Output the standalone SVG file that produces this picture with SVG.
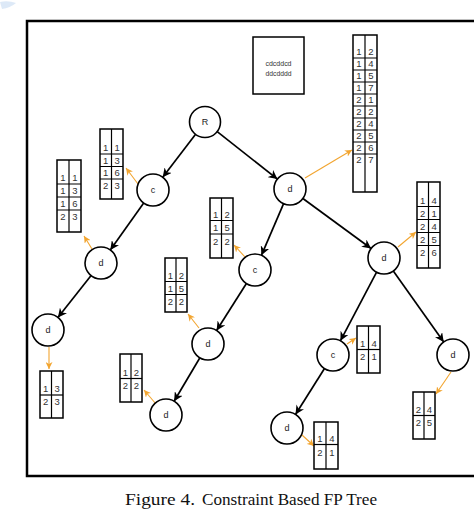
<svg xmlns="http://www.w3.org/2000/svg" width="474" height="512" viewBox="0 0 474 512">
<style>
.nd{fill:#fff;stroke:#000;stroke-width:1.6}
.nl{font-family:"Liberation Sans",sans-serif;font-size:9px;text-anchor:middle;fill:#222}
.tb{fill:#fff;stroke:#000;stroke-width:1.5}
.tl{stroke:#000;stroke-width:1.2}
.tt{font-family:"Liberation Sans",sans-serif;font-size:9.5px;text-anchor:middle;fill:#333}
.e{stroke:#000;stroke-width:1.7;fill:none;marker-end:url(#ah)}
.o{stroke:#f2a530;stroke-width:1.1;fill:none;marker-end:url(#oh)}
</style>
<defs>
<marker id="ah" viewBox="0 0 10 10" refX="10" refY="5" markerWidth="9" markerHeight="9" markerUnits="userSpaceOnUse" orient="auto"><path d="M0,0 L10,5 L0,10 L3,5 z" fill="#000"/></marker>
<marker id="oh" viewBox="0 0 10 10" refX="10" refY="5" markerWidth="7" markerHeight="7" markerUnits="userSpaceOnUse" orient="auto"><path d="M0,0 L10,5 L0,10 L3,5 z" fill="#f2a530"/></marker>
</defs>
<rect width="474" height="512" fill="#fff"/>
<path d="M0,2 Q8,0 16,3 Q10,8 2,9 z" fill="#cfe0f3" opacity="0.7"/>
<rect x="27" y="21" width="452" height="455" fill="none" stroke="#000" stroke-width="2.5"/>

<g id="box">
<rect x="253" y="37" width="51" height="57" fill="#fff" stroke="#000" stroke-width="1.5"/>
<text x="278.5" y="66" font-family="Liberation Sans,sans-serif" font-size="8" text-anchor="middle" fill="#333" textLength="26" lengthAdjust="spacingAndGlyphs">cdcddcd</text>
<text x="278.5" y="76" font-family="Liberation Sans,sans-serif" font-size="8" text-anchor="middle" fill="#333" textLength="26" lengthAdjust="spacingAndGlyphs">ddcdddd</text>
</g>

<g id="connectors">
<line class="e" x1="195.6" y1="134.3" x2="162.7" y2="177.3"/>
<line class="e" x1="217.2" y1="131.6" x2="277.4" y2="179.1"/>
<line class="e" x1="143.7" y1="203" x2="110.3" y2="250"/>
<line class="e" x1="91.1" y1="275.5" x2="57.9" y2="317.5"/>
<line class="e" x1="283.6" y1="203.7" x2="261.4" y2="255.3"/>
<line class="e" x1="302.9" y1="198.5" x2="371.1" y2="248.5"/>
<line class="e" x1="246.4" y1="283.5" x2="216.6" y2="330.5"/>
<line class="e" x1="199.9" y1="357.8" x2="174.1" y2="401.2"/>
<line class="e" x1="376.6" y1="272.2" x2="340.4" y2="340.8"/>
<line class="e" x1="393.3" y1="271" x2="443.7" y2="342"/>
<line class="e" x1="324.5" y1="368.5" x2="295.5" y2="414.5"/>
<line class="o" x1="138" y1="184" x2="126" y2="168"/>
<line class="o" x1="92" y1="249" x2="84" y2="236"/>
<line class="o" x1="305" y1="178" x2="352" y2="150"/>
<line class="o" x1="245" y1="257" x2="234" y2="245"/>
<line class="o" x1="199" y1="328" x2="188" y2="314"/>
<line class="o" x1="398" y1="247" x2="416" y2="232"/>
<line class="o" x1="49" y1="347" x2="49" y2="369"/>
<line class="o" x1="156" y1="404" x2="144" y2="390"/>
<line class="o" x1="347" y1="344" x2="356" y2="338"/>
<line class="o" x1="451" y1="372" x2="436" y2="394"/>
<line class="o" x1="302" y1="435" x2="314" y2="446"/>
</g>

<g id="n-R"><circle class="nd" cx="205" cy="122" r="15.5"/><text class="nl" x="205" y="125">R</text></g>
<g id="n-c1"><circle class="nd" cx="153" cy="190" r="16"/><text class="nl" x="153" y="193">c</text></g>
<g id="n-d1"><circle class="nd" cx="290" cy="189" r="16"/><text class="nl" x="290" y="192">d</text></g>
<g id="n-d2"><circle class="nd" cx="101" cy="263" r="16"/><text class="nl" x="101" y="266">d</text></g>
<g id="n-c2"><circle class="nd" cx="255" cy="270" r="16"/><text class="nl" x="255" y="273">c</text></g>
<g id="n-d3"><circle class="nd" cx="384" cy="258" r="16"/><text class="nl" x="384" y="261">d</text></g>
<g id="n-d4"><circle class="nd" cx="48" cy="330" r="16"/><text class="nl" x="48" y="333">d</text></g>
<g id="n-d5"><circle class="nd" cx="208" cy="344" r="16"/><text class="nl" x="208" y="347">d</text></g>
<g id="n-c3"><circle class="nd" cx="333" cy="355" r="16"/><text class="nl" x="333" y="358">c</text></g>
<g id="n-d6"><circle class="nd" cx="453" cy="355" r="16"/><text class="nl" x="453" y="358">d</text></g>
<g id="n-d7"><circle class="nd" cx="166" cy="415" r="16"/><text class="nl" x="166" y="418">d</text></g>
<g id="n-d8"><circle class="nd" cx="287" cy="428" r="16"/><text class="nl" x="287" y="431">d</text></g>

<g id="t-A">
<rect class="tb" x="353" y="35" width="24" height="157"/>
<line class="tl" x1="365" y1="35" x2="365" y2="192"/>
<path class="tl" d="M353,58H377M353,70H377M353,82H377M353,94H377M353,106H377M353,118H377M353,130H377M353,142H377M353,154H377"/>
<text class="tt" x="359" y="55">1</text><text class="tt" x="371" y="55">2</text>
<text class="tt" x="359" y="67">1</text><text class="tt" x="371" y="67">4</text>
<text class="tt" x="359" y="79">1</text><text class="tt" x="371" y="79">5</text>
<text class="tt" x="359" y="91">1</text><text class="tt" x="371" y="91">7</text>
<text class="tt" x="359" y="103">2</text><text class="tt" x="371" y="103">1</text>
<text class="tt" x="359" y="115">2</text><text class="tt" x="371" y="115">2</text>
<text class="tt" x="359" y="127">2</text><text class="tt" x="371" y="127">4</text>
<text class="tt" x="359" y="139">2</text><text class="tt" x="371" y="139">5</text>
<text class="tt" x="359" y="151">2</text><text class="tt" x="371" y="151">6</text>
<text class="tt" x="359" y="163">2</text><text class="tt" x="371" y="163">7</text>
</g>

<g id="t-B">
<rect class="tb" x="100" y="129" width="23" height="70"/>
<line class="tl" x1="111.5" y1="129" x2="111.5" y2="199"/>
<path class="tl" d="M100,154H123M100,166.5H123M100,179H123"/>
<text class="tt" x="105.75" y="151">1</text><text class="tt" x="117.25" y="151">1</text>
<text class="tt" x="105.75" y="163.5">1</text><text class="tt" x="117.25" y="163.5">3</text>
<text class="tt" x="105.75" y="176">1</text><text class="tt" x="117.25" y="176">6</text>
<text class="tt" x="105.75" y="188.5">2</text><text class="tt" x="117.25" y="188.5">3</text>
</g>

<g id="t-C">
<rect class="tb" x="57" y="160" width="24" height="72"/>
<line class="tl" x1="69" y1="160" x2="69" y2="232"/>
<path class="tl" d="M57,184H81M57,197H81M57,210H81"/>
<text class="tt" x="63" y="181">1</text><text class="tt" x="75" y="181">1</text>
<text class="tt" x="63" y="194">1</text><text class="tt" x="75" y="194">3</text>
<text class="tt" x="63" y="207">1</text><text class="tt" x="75" y="207">6</text>
<text class="tt" x="63" y="220">2</text><text class="tt" x="75" y="220">3</text>
</g>

<g id="t-D">
<rect class="tb" x="210" y="198" width="23" height="60"/>
<line class="tl" x1="221.5" y1="198" x2="221.5" y2="258"/>
<path class="tl" d="M210,220.5H233M210,234H233"/>
<text class="tt" x="215.75" y="217.5">1</text><text class="tt" x="227.25" y="217.5">2</text>
<text class="tt" x="215.75" y="231">1</text><text class="tt" x="227.25" y="231">5</text>
<text class="tt" x="215.75" y="245">2</text><text class="tt" x="227.25" y="245">2</text>
</g>

<g id="t-E">
<rect class="tb" x="165" y="258" width="22" height="54"/>
<line class="tl" x1="176" y1="258" x2="176" y2="312"/>
<path class="tl" d="M165,281.5H187M165,294.5H187"/>
<text class="tt" x="170.5" y="278.5">1</text><text class="tt" x="181.5" y="278.5">2</text>
<text class="tt" x="170.5" y="291.5">1</text><text class="tt" x="181.5" y="291.5">5</text>
<text class="tt" x="170.5" y="305">2</text><text class="tt" x="181.5" y="305">2</text>
</g>

<g id="t-F">
<rect class="tb" x="417" y="182" width="23" height="86"/>
<line class="tl" x1="428.5" y1="182" x2="428.5" y2="268"/>
<path class="tl" d="M417,206.5H440M417,219.5H440M417,232.5H440M417,245.5H440"/>
<text class="tt" x="422.75" y="203.5">1</text><text class="tt" x="434.25" y="203.5">4</text>
<text class="tt" x="422.75" y="216.5">2</text><text class="tt" x="434.25" y="216.5">1</text>
<text class="tt" x="422.75" y="229.5">2</text><text class="tt" x="434.25" y="229.5">4</text>
<text class="tt" x="422.75" y="242.5">2</text><text class="tt" x="434.25" y="242.5">5</text>
<text class="tt" x="422.75" y="255.5">2</text><text class="tt" x="434.25" y="255.5">6</text>
</g>

<g id="t-G">
<rect class="tb" x="40" y="371" width="23" height="47"/>
<line class="tl" x1="51.5" y1="371" x2="51.5" y2="418"/>
<path class="tl" d="M40,395H63"/>
<text class="tt" x="45.75" y="392">1</text><text class="tt" x="57.25" y="392">3</text>
<text class="tt" x="45.75" y="405">2</text><text class="tt" x="57.25" y="405">3</text>
</g>

<g id="t-H">
<rect class="tb" x="120" y="354" width="22" height="48"/>
<line class="tl" x1="131" y1="354" x2="131" y2="402"/>
<path class="tl" d="M120,378.5H142"/>
<text class="tt" x="125.5" y="375.5">1</text><text class="tt" x="136.5" y="375.5">2</text>
<text class="tt" x="125.5" y="388.5">2</text><text class="tt" x="136.5" y="388.5">2</text>
</g>

<g id="t-I">
<rect class="tb" x="357" y="326" width="23" height="47"/>
<line class="tl" x1="368.5" y1="326" x2="368.5" y2="373"/>
<path class="tl" d="M357,349.5H380"/>
<text class="tt" x="362.75" y="346.5">1</text><text class="tt" x="374.25" y="346.5">4</text>
<text class="tt" x="362.75" y="360">2</text><text class="tt" x="374.25" y="360">1</text>
</g>

<g id="t-J">
<rect class="tb" x="413" y="392" width="22" height="47"/>
<line class="tl" x1="424" y1="392" x2="424" y2="439"/>
<path class="tl" d="M413,415.5H435"/>
<text class="tt" x="418.5" y="412.5">2</text><text class="tt" x="429.5" y="412.5">4</text>
<text class="tt" x="418.5" y="426">2</text><text class="tt" x="429.5" y="426">5</text>
</g>

<g id="t-K">
<rect class="tb" x="314" y="422" width="24" height="47"/>
<line class="tl" x1="326" y1="422" x2="326" y2="469"/>
<path class="tl" d="M314,444.5H338"/>
<text class="tt" x="320" y="441.5">1</text><text class="tt" x="332" y="441.5">4</text>
<text class="tt" x="320" y="456">2</text><text class="tt" x="332" y="456">1</text>
</g>

<g id="caption" font-family="Liberation Serif,serif" font-size="16" fill="#111">
<text x="125" y="505" textLength="70" lengthAdjust="spacingAndGlyphs">Figure 4.</text>
<text x="202" y="505" textLength="175" lengthAdjust="spacingAndGlyphs">Constraint Based FP Tree</text>
</g>
</svg>
